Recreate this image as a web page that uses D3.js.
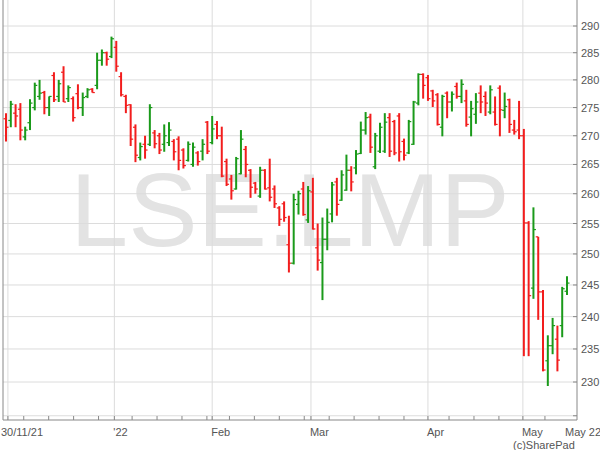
<!DOCTYPE html>
<html>
<head>
<meta charset="utf-8">
<script src="https://cdn.jsdelivr.net/npm/d3@7"></script>
<style>
  body { margin: 0; background: #fff; }
  text { font-family: "Liberation Sans", Arial, sans-serif; }
</style>
</head>
<body>
<div id="chart"></div>
<script>
// OHLC values, one entry per trading day
var opens = [273,272.7,274,274.7,269.8,272.3,275,277,277.7,275,280.8,277,281.4,276.6,276.6,277.5,275,277,278.3,279,
  283.6,285,284.3,286,280.6,277,275.5,271.5,266.2,268.5,268.5,270.5,270,268.5,268.8,269,269.4,267.5,265.7,265,
  267,267.3,272.4,268.8,272,270,265.5,262.5,260.8,263.4,267.6,264,261.8,259.6,264,261,260.8,257.6,258.3,251.5,
  248.5,258.2,260.8,255.6,260.3,251,248.6,252.4,256.6,262,258.9,260.6,264,264.4,266.9,271,273.3,264.6,267.3,267.3,
  273.2,272.5,273.5,269,267,268.5,275.8,281,280.4,278,277.3,271.5,277.6,276,278.8,277,276.2,273.3,273.8,277.6,
  277,274.2,274.2,278.5,274.5,276.4,271,271,270,255.1,244.5,252.8,243.9,233.2,235.5,236.5,238.6,244];
var highs = [274,276.2,275.6,275.8,271.6,276.5,279.5,280,278,277,281.4,280,282.5,279,277,279.2,277.7,278.5,278.5,285,
  285.6,285.2,288,287.2,281.4,277.3,275.6,272,268.8,270,275.6,271,270.5,272,272.4,269.4,269.9,267.8,269,268.8,
  267.3,269.4,272.6,273.5,272.6,271.6,266,263.2,266.3,271,268.2,264.2,262,264.6,264.2,266,261.4,257.9,258.7,256.3,
  260,260.5,262,261.3,262.7,255,256,257.5,262,262.7,264,266.7,264.7,267.5,272.5,274.2,273.9,270.5,272.3,274,
  274,272.8,274,269.5,272.8,276.2,281.2,281.2,280.9,278.2,277.6,277.3,277.9,277.9,279.5,280.1,278.2,276.2,277.6,279,
  277.9,279,277,279,277.7,276.6,272.8,276.2,271.2,255.4,257.7,252.8,244.2,237.1,239.8,238.6,244.7,246.4];
var lows = [269,271.5,271.5,269.2,269.2,271,274.5,276.4,273.8,273.5,276,276,276,276,272.5,274.7,273.5,276.7,277.7,278.3,
  282.6,282.6,284,281.5,277,274,268.2,265.4,265.7,266,268.2,267.8,266.8,267.2,268.2,265.7,264,264.3,265.5,264.6,
  264.8,265.7,266.8,268.5,269.4,262.8,261.3,259,260.7,263.3,262.8,259.3,260,259.3,260.7,258.7,257.6,254.6,255.3,247,
  248.3,256.5,256.3,255.1,254,247.3,242.6,250.6,255.2,256.3,258.8,260.5,260.4,263.3,266.8,270.2,267,264.2,267,267,
  266.3,266.6,265.5,265.7,266.8,268.4,275.4,276.6,276.2,275.1,271.8,269.9,273.1,274.3,276.6,275.8,271.6,269.9,272.1,274,
  273.5,273.8,271.8,269.9,273.1,270.5,270.2,269.4,233.9,233.9,242.8,239.5,231.6,229.4,234.2,231.6,236.8,243.4];
var closes = [271.5,275.6,273.5,271,271,275.8,279,277.6,275,277,276.4,279.3,276,278.6,273.2,275,276.8,278.2,277.7,283.6,
  285,283.8,287.6,282.5,277.3,275.4,269.4,266.6,268.1,267.5,275,268.6,267.5,270,271,267.2,265.7,264.8,268.5,268,
  265.5,268.5,267.3,271.2,270,263,261.6,260.5,266,269.4,265,261.1,260.8,264,260.8,259.4,258.3,255.7,256,248.5,
  259,260,256.5,260.5,254.1,249,252.4,255.2,261.5,258.2,263.2,264,262,266.8,271,273.2,268,270,271.5,272.4,
  267.3,267,267.2,266.6,272.5,276,281,279,276.6,276.2,272,277,276,277.4,277,279.2,272,274.8,276,276,
  275.8,278.2,272,274.6,275.2,272,270.7,270,255.1,243.3,254,243.9,231.8,235.5,238.6,233.3,244.4,245.3];

// axis labels, placed at bar index positions
var monthLabels = ["30/11/21", "'22", "Feb", "Mar", "Apr", "May", "May 22"];
var monthIdx = [0.4, 22.6, 43, 63.6, 88, 107.8, 116.8];
var gridIdx = [0.4, 22.6, 43, 63.6, 88, 107.8];
var weekIdx = [3.7, 8.9, 14.1, 19.3, 26.3, 31.5, 36.7, 41.9, 46.6, 51.8, 57, 62.2, 67.4, 72.6, 77.8, 83, 92.4, 97.6, 102.8, 112.4];
var yTicks = [225, 230, 235, 240, 245, 250, 255, 260, 265, 270, 275, 280, 285, 290];

var data = opens.map(function(o, i) {
  return { i: i, o: o, h: highs[i], l: lows[i], c: closes[i] };
});

var svgWidth = 600, svgHeight = 450;
var left = 3, right = 577, bottom = 420;

var svg = d3.select("#chart").append("svg")
  .attr("width", svgWidth)
  .attr("height", svgHeight);

var xScale = d3.scaleLinear()
  .domain([0, data.length - 1])
  .range([6, 567]);

var yScale = d3.scaleLog()
  .domain([230, 290])
  .range([382, 26]);

// watermark
svg.append("text")
  .attr("x", 290).attr("y", 246)
  .attr("text-anchor", "middle")
  .attr("font-size", 104)
  .attr("fill", "#e3e3e3")
  .text("LSE.LMP");

// grid
svg.append("g").selectAll("line")
  .data(yTicks)
  .enter().append("line")
  .attr("x1", left).attr("x2", right)
  .attr("y1", d => yScale(d)).attr("y2", d => yScale(d))
  .attr("stroke", "#dcdcdc");

svg.append("g").selectAll("line")
  .data(gridIdx)
  .enter().append("line")
  .attr("x1", d => xScale(d)).attr("x2", d => xScale(d))
  .attr("y1", 0).attr("y2", bottom)
  .attr("stroke", "#dcdcdc");

// frame
svg.append("line").attr("x1", left).attr("x2", left).attr("y1", 0).attr("y2", bottom).attr("stroke", "#888");
svg.append("line").attr("x1", right).attr("x2", right).attr("y1", 0).attr("y2", bottom).attr("stroke", "#888");
svg.append("line").attr("x1", left).attr("x2", right).attr("y1", bottom).attr("y2", bottom).attr("stroke", "#888");

// right axis
var yAxis = svg.append("g");
yAxis.selectAll("line")
  .data(yTicks)
  .enter().append("line")
  .attr("x1", right - 4).attr("x2", right)
  .attr("y1", d => yScale(d)).attr("y2", d => yScale(d))
  .attr("stroke", "#888");
yAxis.selectAll("text")
  .data(yTicks.filter(d => d >= 230))
  .enter().append("text")
  .attr("x", right + 4)
  .attr("y", d => yScale(d) + 4)
  .attr("font-size", 11)
  .attr("fill", "#555")
  .text(d => d);

// bottom axis
svg.append("g").selectAll("line")
  .data(weekIdx.concat(gridIdx))
  .enter().append("line")
  .attr("x1", d => xScale(d)).attr("x2", d => xScale(d))
  .attr("y1", bottom - 4).attr("y2", bottom)
  .attr("stroke", "#888");

svg.append("g").selectAll("text")
  .data(monthLabels)
  .enter().append("text")
  .attr("x", (d, i) => i === 0 ? 1 : xScale(monthIdx[i]) - 1)
  .attr("y", 436)
  .attr("font-size", 11)
  .attr("fill", "#555")
  .text(d => d);

svg.append("text")
  .attr("x", 513).attr("y", 449)
  .attr("font-size", 11)
  .attr("fill", "#555")
  .text("(c)SharePad");

// OHLC bars
var bars = svg.append("g").selectAll("g")
  .data(data)
  .enter().append("g")
  .attr("stroke", d => d.c >= d.o ? "#1a9a1a" : "#f21d1d")
  .attr("stroke-width", 2);

bars.append("line")
  .attr("x1", d => xScale(d.i)).attr("x2", d => xScale(d.i))
  .attr("y1", d => yScale(d.h)).attr("y2", d => yScale(d.l));

bars.append("line")
  .attr("x1", d => xScale(d.i) - 2.5).attr("x2", d => xScale(d.i))
  .attr("y1", d => yScale(d.o)).attr("y2", d => yScale(d.o))
  .attr("stroke-width", 1.2);

bars.append("line")
  .attr("x1", d => xScale(d.i)).attr("x2", d => xScale(d.i) + 2.5)
  .attr("y1", d => yScale(d.c)).attr("y2", d => yScale(d.c))
  .attr("stroke-width", 1.2);
</script>
</body>
</html>
